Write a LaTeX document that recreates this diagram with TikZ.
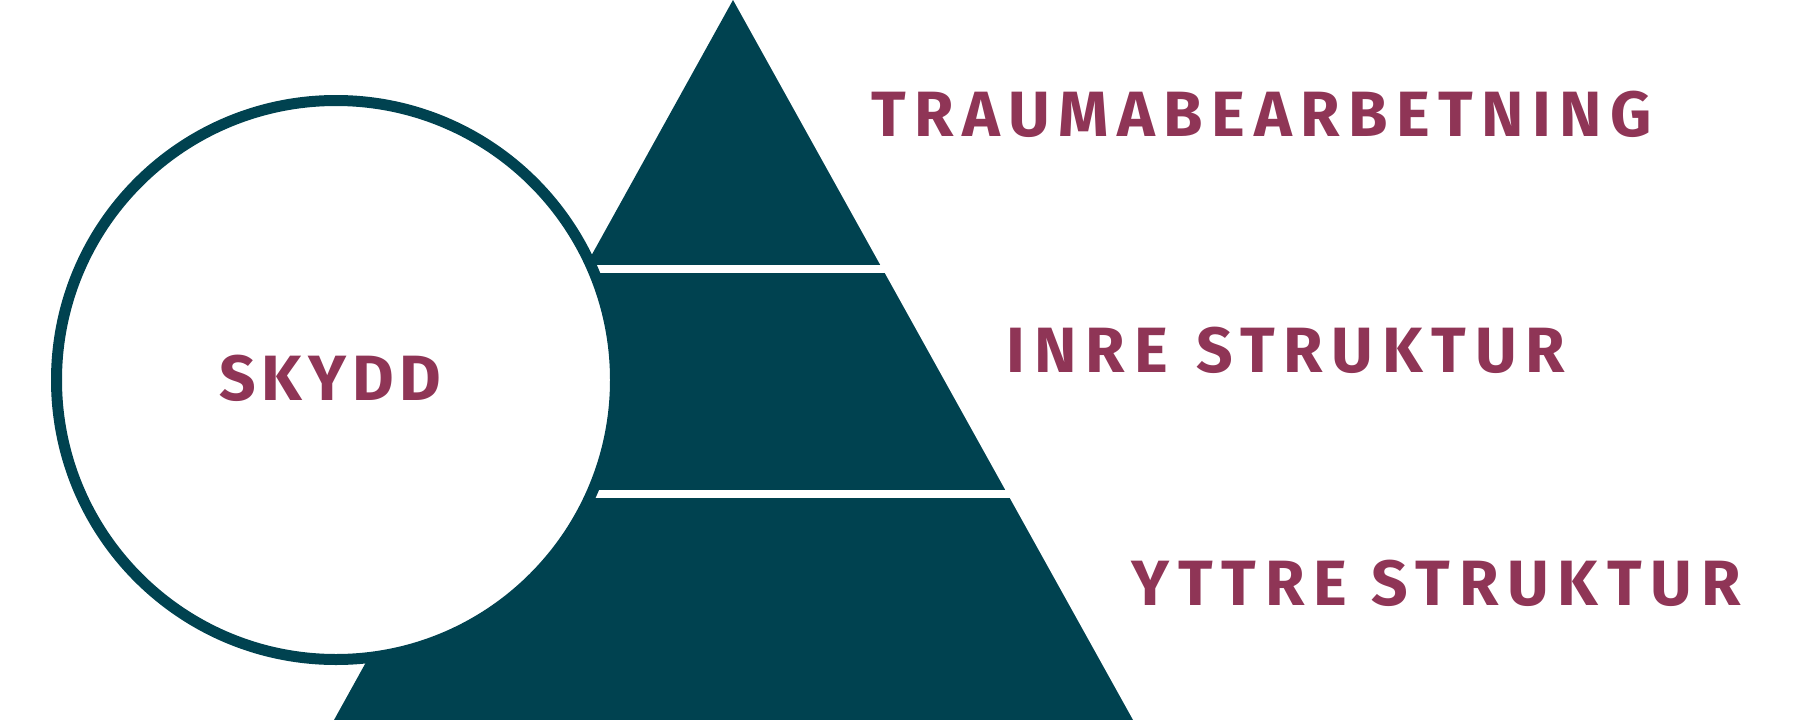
\documentclass[tikz,border=0pt]{standalone}
\usepackage{fontspec}
\setmainfont{Fira Sans}
\newfontfamily\lblfont{Fira Sans}[LetterSpace=14]
\newfontfamily\topfont{Fira Sans}[LetterSpace=13.3]
\newfontfamily\circfont{Fira Sans}[LetterSpace=9.3]
\definecolor{deepteal}{RGB}{0,66,80}
\definecolor{berry}{RGB}{143,53,86}
\tikzset{
  lbl/.style={font=\lblfont\bfseries\fontsize{64}{64}\selectfont, text=berry, inner sep=0pt, anchor=base west},
  toplbl/.style={lbl, font=\topfont\bfseries\fontsize{64}{64}\selectfont},
  circlbl/.style={lbl, font=\circfont\bfseries\fontsize{64}{64}\selectfont},
  gap/.style={fill=white, draw=none},
}
\begin{document}
\begin{tikzpicture}[x=1pt,y=-1pt]
\useasboundingbox (0,0) rectangle (1800,720);
% pyramid
\fill[deepteal] (334,720) -- (733,0) -- (1133,720) -- cycle;
% white separating stripes
\fill[gap] (560,264.5) rectangle (1150,272.5);
\fill[gap] (560,489.5) rectangle (1150,497.5);
% circle
\node (circ) [circle, draw=deepteal, line width=11pt, fill=white, minimum size=559pt, inner sep=0pt] at (336,380) {};
% labels
\node[circlbl] (skydd) at (219,400) {SKYDD};
\node[toplbl] (trauma) at (871.7,136) {TRAUMABEARBETNING};
\node[lbl] (inre) at (1006.5,372.7) {INRE\hspace{4pt} STRUKTUR};
\node[lbl] (yttre) at (1131,605) {YTTRE STRUKTUR};
\end{tikzpicture}
\end{document}
